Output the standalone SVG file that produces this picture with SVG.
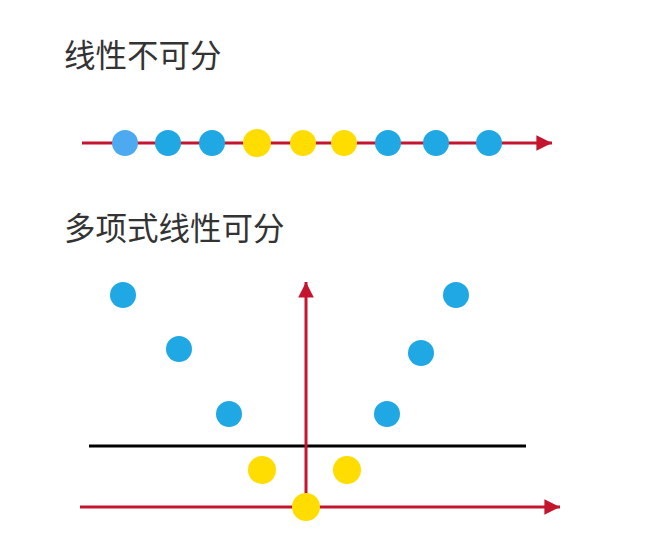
<svg xmlns="http://www.w3.org/2000/svg" width="662" height="555" viewBox="0 0 662 555">
<style>
.t{font-family:"Noto Sans CJK SC","Noto Sans",sans-serif;font-size:31.5px;fill:#333}
.ax{stroke:#C4152F;stroke-width:3;fill:none}
.b{fill:#1FA8E4}
.lb{fill:#4DAAF0}
.y{fill:#FFDD00}
</style>
<defs>
<marker id="ah" viewBox="0 0 10 10" refX="10" refY="5" markerWidth="5.2" markerHeight="5.3" markerUnits="strokeWidth" orient="auto">
<path d="M0,0 L10,5 L0,10 Z" fill="#C4152F"/>
</marker>
</defs>
<rect width="662" height="555" fill="#fff"/>
<text class="t" x="64" y="67">线性不可分</text>
<text class="t" x="64" y="240">多项式线性可分</text>
<g id="connectors">
<line class="ax" x1="82" y1="143" x2="552" y2="143" marker-end="url(#ah)"/>
<line x1="89" y1="446" x2="526" y2="446" stroke="#000" stroke-width="3"/>
<line class="ax" x1="306" y1="507" x2="306" y2="282" marker-end="url(#ah)"/>
<line class="ax" x1="80" y1="507" x2="560" y2="507" marker-end="url(#ah)"/>
</g>
<g id="line-points">
<circle id="p1" class="lb" cx="125" cy="143" r="13"/>
<circle id="p2" class="b" cx="168" cy="143" r="13"/>
<circle id="p3" class="b" cx="212" cy="143" r="13"/>
<circle id="p4" class="y" cx="257" cy="143" r="14"/>
<circle id="p5" class="y" cx="303" cy="143" r="13"/>
<circle id="p6" class="y" cx="344" cy="143" r="13"/>
<circle id="p7" class="b" cx="388" cy="143" r="13"/>
<circle id="p8" class="b" cx="436" cy="143" r="13"/>
<circle id="p9" class="b" cx="489" cy="143" r="13"/>
</g>
<g id="plane-points">
<circle id="q1" class="b" cx="123" cy="295" r="13"/>
<circle id="q2" class="b" cx="179" cy="349" r="13"/>
<circle id="q3" class="b" cx="229" cy="414" r="13"/>
<circle id="q4" class="b" cx="456" cy="295" r="13"/>
<circle id="q5" class="b" cx="421" cy="353" r="13"/>
<circle id="q6" class="b" cx="387" cy="414" r="13"/>
<circle id="q7" class="y" cx="262" cy="470" r="14"/>
<circle id="q8" class="y" cx="347" cy="470" r="14"/>
<circle id="q9" class="y" cx="306" cy="507" r="14"/>
</g>
</svg>
